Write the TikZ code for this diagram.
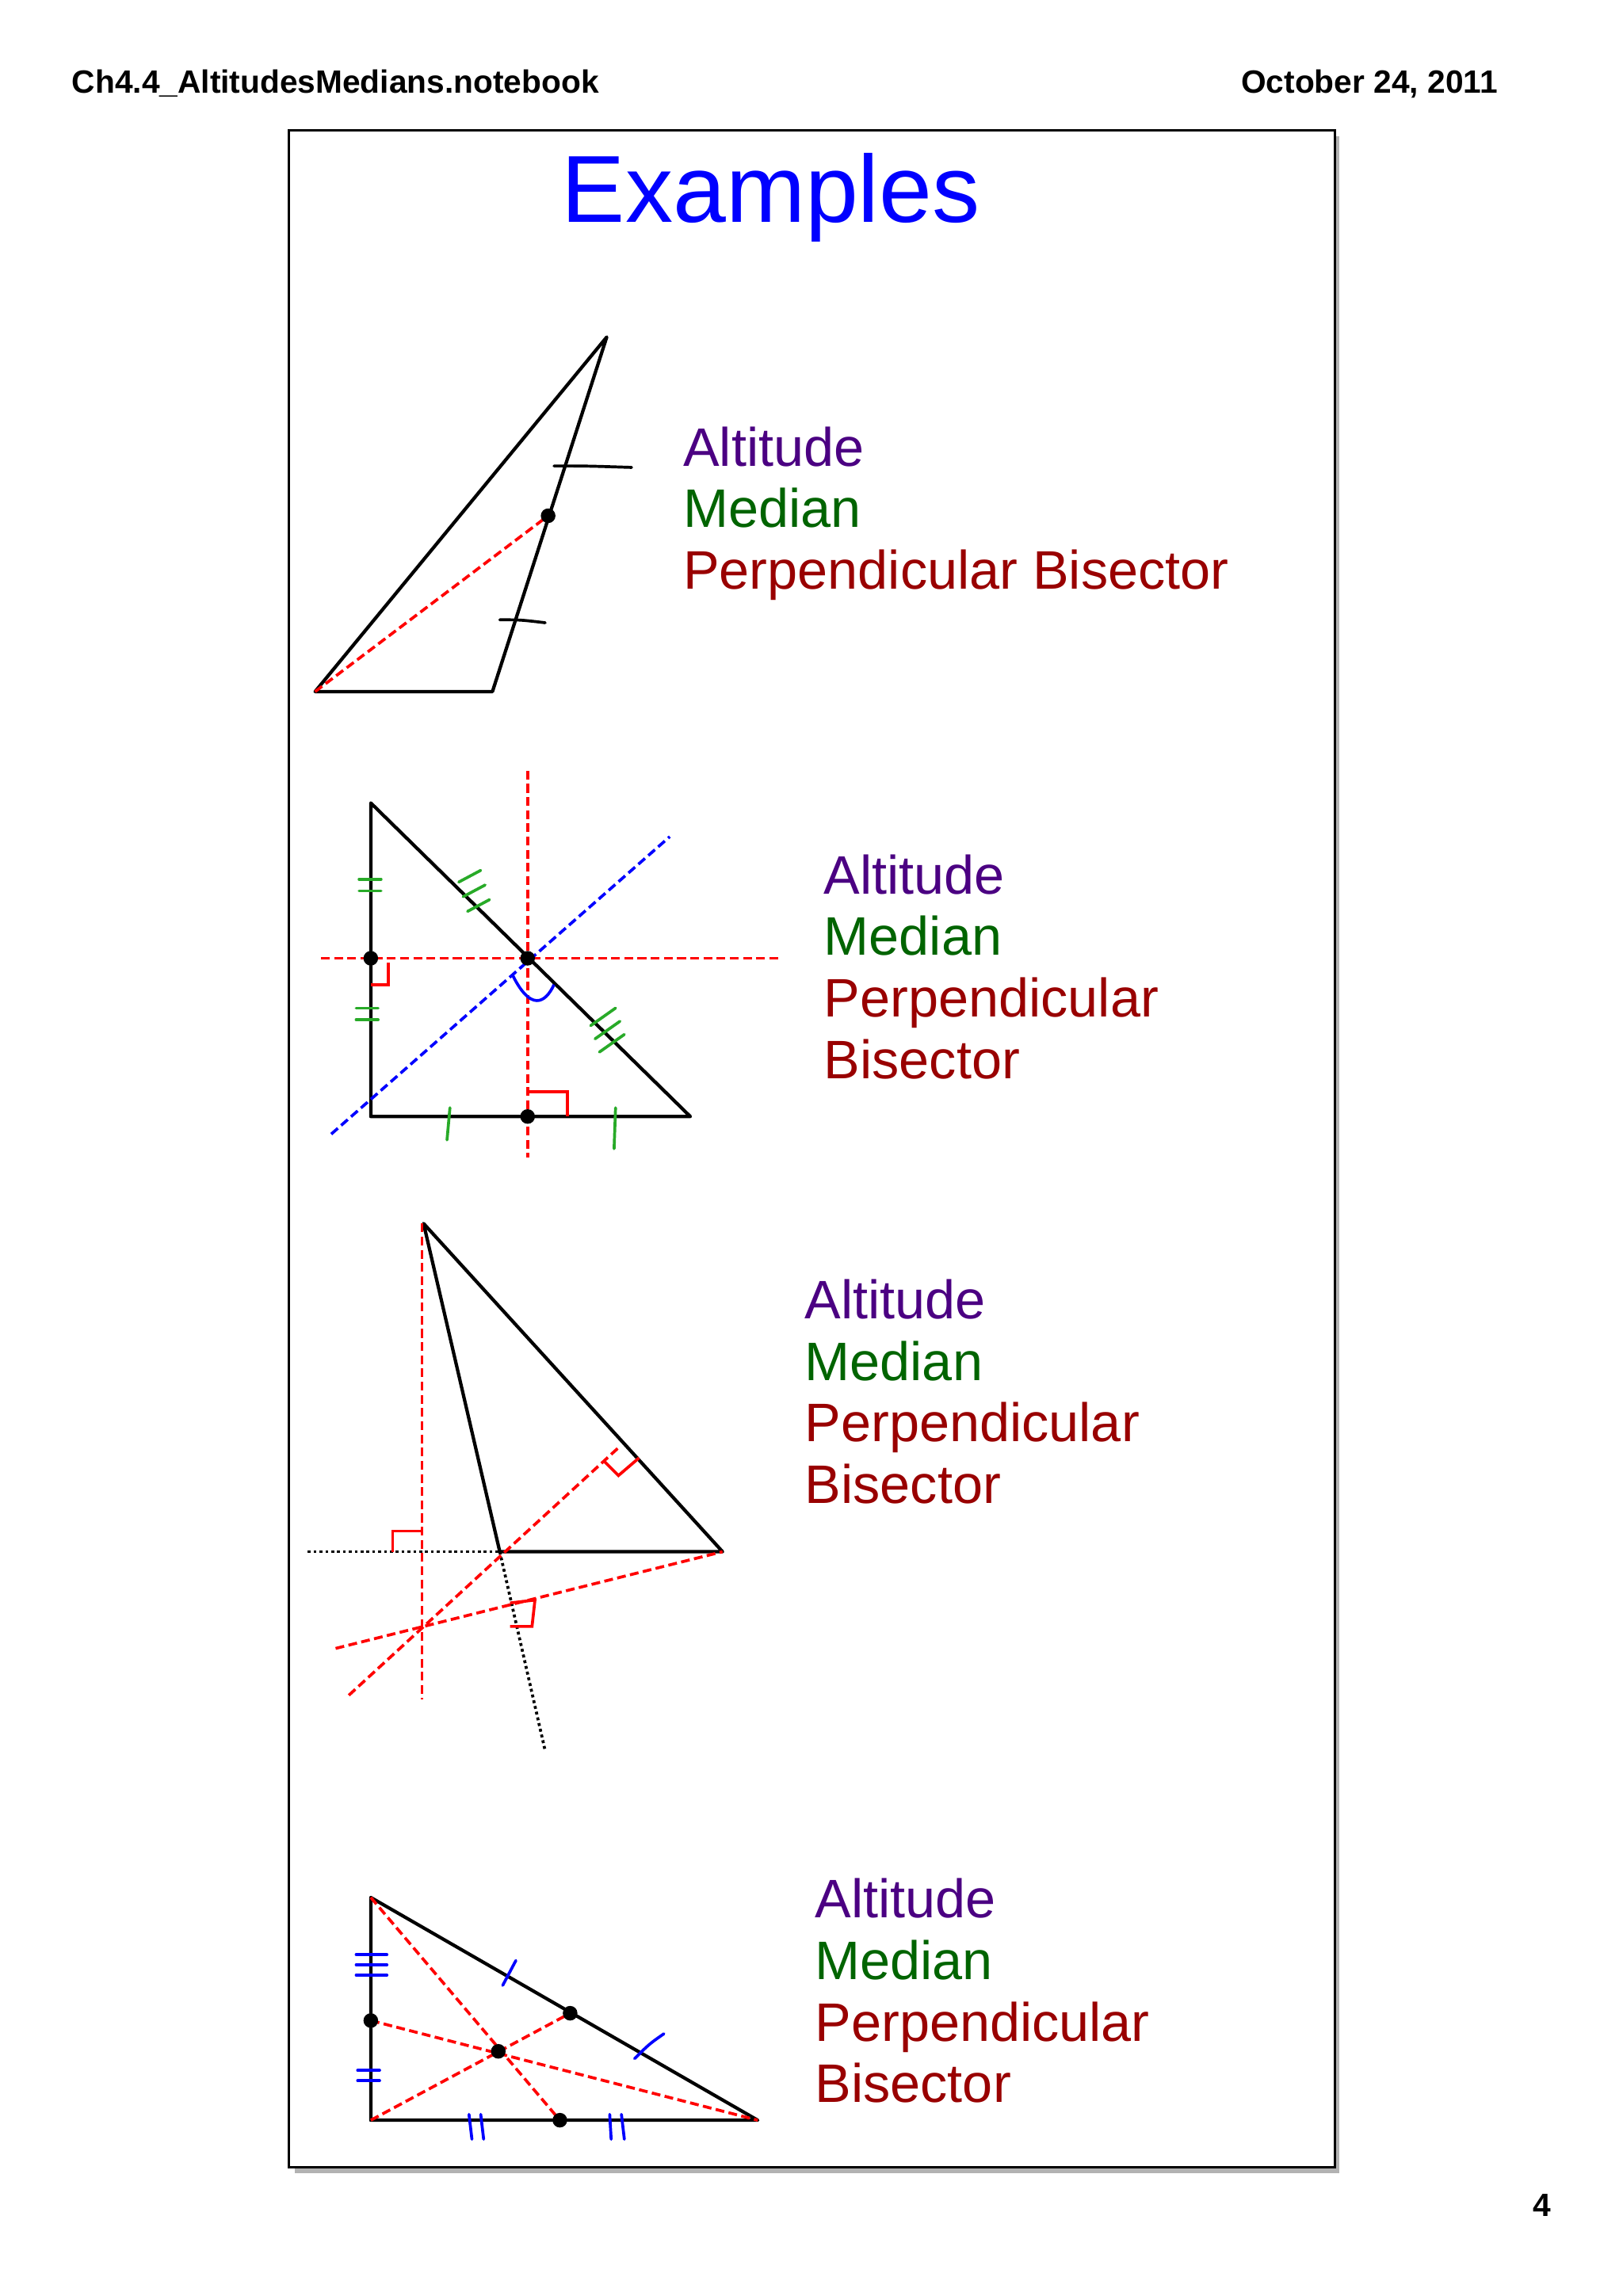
\documentclass[tikz,border=0pt]{standalone}
\usepackage{fontspec}
\setmainfont{Liberation Sans}
\definecolor{alt}{RGB}{75,0,130}
\definecolor{med}{RGB}{0,100,0}
\definecolor{pb}{RGB}{153,0,0}
\definecolor{tg}{RGB}{40,170,40}
\tikzset{
 lbl/.style={anchor=base west,font=\fontsize{37}{40}\selectfont,inner sep=0pt},
 rd/.style={red,dashed,line width=2pt,dash pattern=on 6pt off 3pt},
 tri/.style={black,line width=2.3pt,line join=round},
 dot/.style={circle,fill=black,inner sep=0pt,minimum size=10pt},
 tk/.style={line width=2pt,line cap=round},
 hdr/.style={font=\bfseries\fontsize{22}{24}\selectfont,inner sep=0pt}
}
\newcommand{\labs}[3]{%
 \node[lbl,text=alt] at (#1,#2+13) {Altitude};
 \node[lbl,text=med] at (#1,#2+55) {Median};
 \ifnum#3=1
 \node[lbl,text=pb] at (#1,#2+97) {Perpendicular Bisector};
 \else
 \node[lbl,text=pb] at (#1,#2+97) {Perpendicular};
 \node[lbl,text=pb] at (#1,#2+139) {Bisector};
 \fi}
\begin{document}
\begin{tikzpicture}[x=1pt,y=-1pt]
\useasboundingbox (0,0) rectangle (1107,1567);
\fill[white] (0,0) rectangle (1107,1567);
\node[hdr,anchor=west] (h1) at (49,57) {Ch4.4\_AltitudesMedians.notebook};
\node[hdr,anchor=east] (h2) at (1022,57) {October 24, 2011};
\node[hdr] (pg) at (1052,1505) {4};
\fill[gray!60] (201,93) rectangle (914,1483);
\draw[black,line width=1.5pt,fill=white] (197,89) rectangle (911,1479);
\node[text=blue,font=\fontsize{65}{70}\selectfont] (ttl) at (526,135) {Examples};
% example 1
\draw[tri] (215,472) -- (414,230) -- (336,472) -- cycle;
\draw[rd] (215,472) -- (374,352);
\draw[tk] (378,318) .. controls (400,318) .. (431,319);
\draw[tk] (341,423) .. controls (355,423) .. (372,425);
\node[dot] (m1) at (374,352) {};
\labs{466}{305}{1}
% example 2
\draw[tri] (253,548) -- (253,762) -- (471,762) -- cycle;
\draw[rd] (360,526) -- (360,790);
\draw[rd] (219,654) -- (531,654);
\draw[blue,dashed,line width=2pt,dash pattern=on 6pt off 3pt] (226,774) -- (457,571);
\draw[red,line width=2pt] (360,745) -- (387,745) -- (387,762);
\draw[red,line width=2pt] (253,672) -- (265,672) -- (265,657);
\draw[blue,line width=2pt] (350,666) .. controls (362,690) and (372,685) .. (378,672);
\draw[tg,tk] (245,600) -- (260,600) (245,608) -- (260,608);
\draw[tg,tk] (243,688) -- (258,688) (243,696) -- (258,696);
\draw[tg,tk] (307,756) -- (305,778) (420,756) -- (419,784);
\draw[tg,tk] (313,602) -- (328,594) (316,612) -- (331,604) (319,622) -- (334,614);
\draw[tg,tk] (403,700) -- (420,688) (406,709) -- (423,697) (409,718) -- (426,706);
\node[dot] at (253,654) {};
\node[dot] at (360,654) {};
\node[dot] at (360,762) {};
\labs{562}{597}{0}
% example 3
\draw[tri] (289,835) -- (493,1059) -- (341,1059) -- cycle;
\draw[black,dotted,line width=2pt] (210,1059) -- (341,1059);
\draw[black,dotted,line width=2pt] (341,1059) -- (372,1195);
\draw[rd] (288,835) -- (288,1160);
\draw[rd] (238,1157) -- (422,988);
\draw[rd] (229,1125) -- (493,1059);
\draw[red,line width=2pt] (268,1059) -- (268,1045) -- (288,1045);
\draw[red,line width=2pt] (412,997) -- (422,1007) -- (436,995);
\draw[red,line width=2pt] (348,1094) -- (365,1092) -- (363,1110) -- (348,1110);
\labs{549}{887}{0}
% example 4
\draw[tri] (253,1295) -- (253,1447) -- (517,1447) -- cycle;
\draw[rd] (253,1295) -- (382,1447);
\draw[rd] (253,1379) -- (517,1447);
\draw[rd] (253,1447) -- (389,1374);
\draw[blue,tk] (243,1334) -- (264,1334) (243,1341) -- (264,1341) (243,1348) -- (264,1348);
\draw[blue,tk] (244,1413) -- (259,1413) (244,1420) -- (259,1420);
\draw[blue,tk] (320,1443) -- (322,1460) (328,1443) -- (330,1460);
\draw[blue,tk] (416,1443) -- (417,1460) (424,1443) -- (426,1460);
\draw[blue,tk] (343,1355) -- (352,1338);
\draw[blue,tk] (433,1405) .. controls (443,1395) .. (453,1388);
\node[dot] at (253,1379) {};
\node[dot] at (389,1374) {};
\node[dot] at (382,1447) {};
\node[dot] at (340,1400) {};
\labs{556}{1296}{0}
\end{tikzpicture}
\end{document}
